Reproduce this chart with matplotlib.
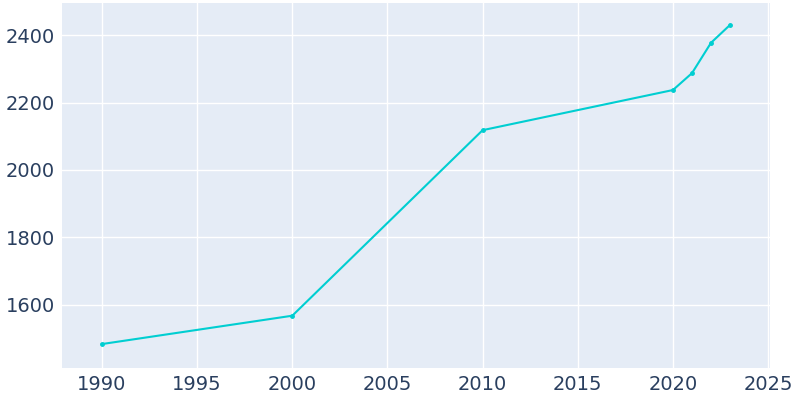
import matplotlib
matplotlib.use("Agg")
import matplotlib.pyplot as plt

years = [1990, 2000, 2010, 2020, 2021, 2022, 2023]
population = [1484, 1568, 2118, 2237, 2287, 2377, 2430]

fig = plt.figure(figsize=(8, 4), dpi=100)
ax = fig.add_axes([0.0775, 0.08, 0.885, 0.9125])
ax.set_facecolor("#E5ECF6")
ax.plot(years, population, color="#00CED1", linewidth=1.5, marker="o", markersize=2.5, zorder=3)

ax.set_xlim(1987.9, 2025.1)
ax.set_ylim(1413, 2495)
ax.set_xticks(range(1990, 2026, 5))
ax.set_yticks([1600, 1800, 2000, 2200, 2400])
ax.grid(color="white", linewidth=1)
ax.set_axisbelow(True)
for s in ax.spines.values():
    s.set_visible(False)
ax.tick_params(length=0, labelsize=14, colors="#2a3f5f", pad=5)

fig.savefig("out.png")
